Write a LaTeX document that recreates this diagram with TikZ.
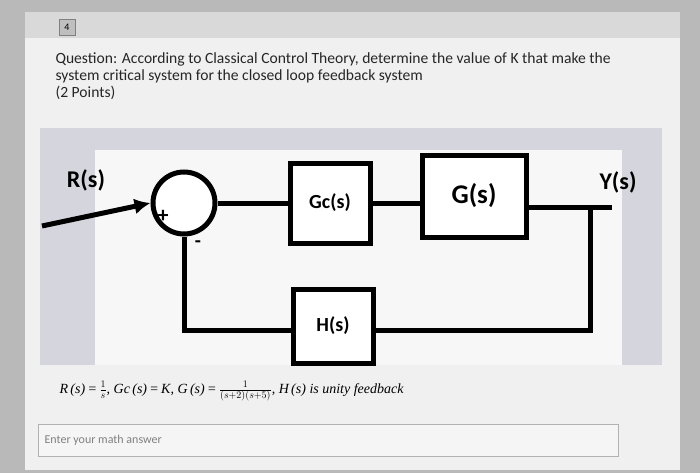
\documentclass[tikz,border=0pt]{standalone}
\usepackage{fontspec}
\usetikzlibrary{arrows.meta}
\setmainfont{Carlito}
\newfontfamily\serifit{Liberation Serif}
\begin{document}
\begin{tikzpicture}[x=1pt,y=-1pt,
  blk/.style={draw=black,line width=5pt,fill=white,minimum width=80pt,minimum height=80pt,font=\bfseries\fontsize{20}{20}\selectfont},
  wire/.style={line width=5pt,black}]
\useasboundingbox (0,0) rectangle (700,473);
\fill[gray!55] (0,0) rectangle (700,473);
\fill[gray!12] (25,12) rectangle (680,470);
\fill[gray!30] (25,12) rectangle (680,38);
\node[draw=gray,fill=gray!50,minimum size=16pt,font=\normalsize] (num) at (67,27) {4};
\node[anchor=north west,align=left,font=\fontsize{15.6}{17}\selectfont,text=black!85] (q) at (52,49)
 {Question: According to Classical Control Theory, determine the value of K that make the\\
  system critical system for the closed loop feedback system\\(2 Points)};
\fill[blue!10!gray!30] (40,128) rectangle (662,365);
\fill[blue!4!gray!6] (95,150) rectangle (622,365);
\node[draw=black,line width=5pt,circle,minimum size=62pt,fill=white] (sum) at (184,203) {};
\node[blk,minimum width=80pt,minimum height=80pt] (gc) at (330,203) {Gc(s)};
\node[blk,minimum width=104pt,minimum height=82pt,font=\bfseries\fontsize{27}{27}\selectfont] (g) at (474,196) {G(s)};
\node[blk,minimum width=80pt,minimum height=74pt] (h) at (333,326) {H(s)};
\coordinate (in) at (42,226);
\coordinate (out) at (612,207);
\coordinate (tap) at (590,207);
\coordinate (fb) at (590,330);
\coordinate (fl) at (184,330);
\draw[wire,-{Latex[length=16pt,width=16pt]}] (in) -- (sum.west);
\draw[wire] (sum.east) -- (gc.west);
\draw[wire] (gc.east) -- (g.west |- gc.east);
\draw[wire] (g.east |- out) -- (out);
\draw[wire] (tap) -- (fb) -- (h.east |- fb);
\draw[wire] (h.west |- fl) -- (fl) -- (sum.south);
\node[font=\bfseries\fontsize{24}{24}\selectfont] (r) at (86,180) {R(s)};
\node[font=\bfseries\fontsize{24}{24}\selectfont] (y) at (618,182) {Y(s)};
\node[font=\bfseries\fontsize{22}{22}\selectfont] (p) at (163,216) {+};
\node[font=\bfseries\fontsize{20}{20}\selectfont] (m) at (198,244) {-};
\node[anchor=west,font=\serifit\itshape\fontsize{14}{16}\selectfont] (f) at (56,391)
 {R\,(s)\,=\,$\frac{1}{s}$,\ Gc\,(s)\,=\,K,\ G\,(s)\,=\,$\frac{1}{(s+2)(s+5)}$,\ H\,(s)\ is unity feedback};
\node[draw=gray!60,fill=gray!8,anchor=west,minimum width=580pt,minimum height=32pt,text=gray,font=\fontsize{12}{14}\selectfont] (ans) at (38,440) {\hspace*{-450pt}Enter your math answer};
\end{tikzpicture}
\end{document}
